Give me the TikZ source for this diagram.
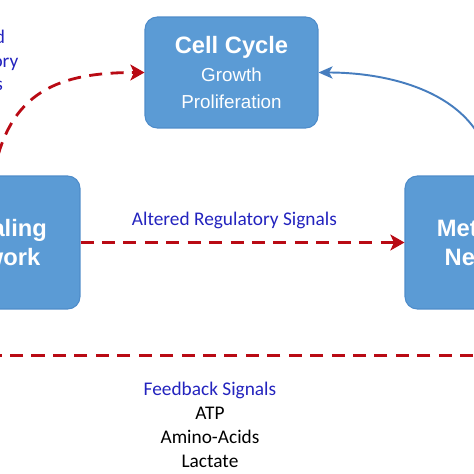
\documentclass[tikz,border=0pt]{standalone}
\usepackage{fontspec}
\usepackage{xcolor}
\setmainfont{Liberation Sans}
\newfontfamily\calibfont{Carlito}
\usetikzlibrary{arrows.meta}

\definecolor{boxblue}{RGB}{91,155,213}
\definecolor{boxedge}{RGB}{78,140,202}
\definecolor{sigred}{RGB}{185,10,20}
\definecolor{txtblue}{RGB}{35,35,190}
\definecolor{lineblue}{RGB}{70,125,190}

\begin{document}
\begin{tikzpicture}[x=0.02cm, y=0.02cm,
    bloque/.style={draw=boxedge, line width=0.6pt, fill=boxblue, rounded corners=7pt, text=white, align=center, minimum width=3.46cm, inner sep=0pt},
    senal/.style={draw=sigred, line width=1.6pt, dash pattern=on 7.4pt off 4.8pt, -{Stealth[length=8pt,width=9pt,inset=2pt]}},
    retro/.style={draw=lineblue, line width=1.1pt, -{Stealth[length=8pt,width=7pt,inset=2pt]}},
    etiqueta/.style={font=\calibfont\fontsize{11}{13.6}\selectfont, text=txtblue, align=center, inner sep=0pt}]
  \useasboundingbox (0,0) rectangle (474,474);
  \clip (0,0) rectangle (474,474);

  % Cajas
  \node[bloque, minimum height=2.22cm, font=\fontsize{10.7}{15.5}\selectfont] (cellcycle) at (231.5,401.5)
    {{\bfseries\fontsize{13.5}{15.5}\selectfont Cell Cycle}\\Growth\\Proliferation};
  \node[bloque, minimum height=2.66cm, font=\bfseries\fontsize{13.5}{17}\selectfont] (signaling) at (-6.5,231.5) {Signaling\\Network};
  \node[bloque, minimum height=2.66cm, font=\bfseries\fontsize{13.5}{17}\selectfont] (metabolic) at (491.5,231.5) {Metabolic\\Network};

  % Senales alteradas
  \draw[senal] (signaling.north) to[out=80, in=180, looseness=1.2] (cellcycle.west);
  \node[etiqueta] (altup) at (-24,412) {Altered\\Regulatory\\Signals};
  \draw[senal] (signaling.east) -- (metabolic.west)
    node[etiqueta, pos=0.475, above=7pt] (altmid) {Altered Regulatory Signals};

  % Retroalimentacion
  \draw[retro] (metabolic.north) to[out=95, in=0] (cellcycle.east);
  \draw[senal] (metabolic.south) -- ++(0,-46) -| (signaling.250);
  \node[etiqueta] (feedback) at (210,49)
    {Feedback Signals\\\textcolor{black}{ATP}\\\textcolor{black}{Amino-Acids}\\\textcolor{black}{Lactate}};
\end{tikzpicture}
\end{document}
